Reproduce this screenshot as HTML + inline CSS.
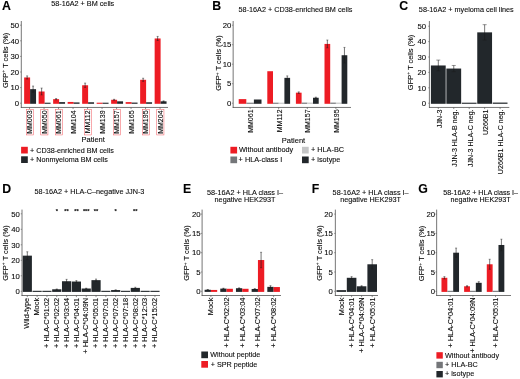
<!DOCTYPE html>
<html><head><meta charset="utf-8"><title>Figure</title>
<style>
html,body{margin:0;padding:0;background:#fff;}
svg{display:block;}
text{font-family:"Liberation Sans",Arial,sans-serif;stroke:#0a0a0a;stroke-width:0.1px;}
</style></head>
<body>
<svg width="520" height="379" viewBox="0 0 520 379">
<rect x="0" y="0" width="520" height="379" fill="#ffffff"/>
<rect x="24.15" y="77.46" width="5.95" height="26.34" fill="#ed1c24"/>
<line x1="27.13" y1="75.90" x2="27.13" y2="79.02" stroke="#1a1a1a" stroke-width="0.6"/>
<line x1="26.13" y1="75.90" x2="28.13" y2="75.90" stroke="#1a1a1a" stroke-width="0.45"/>
<line x1="26.13" y1="79.02" x2="28.13" y2="79.02" stroke="#1a1a1a" stroke-width="0.45"/>
<rect x="30.10" y="89.16" width="5.95" height="14.64" fill="#22272b"/>
<line x1="33.08" y1="86.04" x2="33.08" y2="92.28" stroke="#1a1a1a" stroke-width="0.6"/>
<line x1="32.08" y1="86.04" x2="34.08" y2="86.04" stroke="#1a1a1a" stroke-width="0.45"/>
<line x1="32.08" y1="92.28" x2="34.08" y2="92.28" stroke="#1a1a1a" stroke-width="0.45"/>
<rect x="38.65" y="91.50" width="5.95" height="12.30" fill="#ed1c24"/>
<line x1="41.62" y1="88.07" x2="41.62" y2="94.93" stroke="#1a1a1a" stroke-width="0.6"/>
<line x1="40.62" y1="88.07" x2="42.62" y2="88.07" stroke="#1a1a1a" stroke-width="0.45"/>
<line x1="40.62" y1="94.93" x2="42.62" y2="94.93" stroke="#1a1a1a" stroke-width="0.45"/>
<rect x="44.60" y="102.70" width="5.95" height="1.10" fill="#22272b"/>
<rect x="53.15" y="99.14" width="5.95" height="4.66" fill="#ed1c24"/>
<line x1="56.12" y1="98.52" x2="56.12" y2="99.77" stroke="#1a1a1a" stroke-width="0.6"/>
<line x1="55.12" y1="98.52" x2="57.12" y2="98.52" stroke="#1a1a1a" stroke-width="0.45"/>
<line x1="55.12" y1="99.77" x2="57.12" y2="99.77" stroke="#1a1a1a" stroke-width="0.45"/>
<rect x="59.10" y="102.11" width="5.95" height="1.69" fill="#22272b"/>
<rect x="67.65" y="101.95" width="5.95" height="1.85" fill="#ed1c24"/>
<rect x="73.60" y="102.42" width="5.95" height="1.38" fill="#22272b"/>
<rect x="82.15" y="85.26" width="5.95" height="18.54" fill="#ed1c24"/>
<line x1="85.12" y1="83.08" x2="85.12" y2="87.44" stroke="#1a1a1a" stroke-width="0.6"/>
<line x1="84.12" y1="83.08" x2="86.12" y2="83.08" stroke="#1a1a1a" stroke-width="0.45"/>
<line x1="84.12" y1="87.44" x2="86.12" y2="87.44" stroke="#1a1a1a" stroke-width="0.45"/>
<rect x="88.10" y="102.26" width="5.95" height="1.54" fill="#22272b"/>
<rect x="96.65" y="102.70" width="5.95" height="1.10" fill="#ed1c24"/>
<rect x="102.60" y="102.70" width="5.95" height="1.10" fill="#22272b"/>
<rect x="111.15" y="99.77" width="5.95" height="4.03" fill="#ed1c24"/>
<line x1="114.12" y1="99.30" x2="114.12" y2="100.24" stroke="#1a1a1a" stroke-width="0.6"/>
<line x1="113.12" y1="99.30" x2="115.12" y2="99.30" stroke="#1a1a1a" stroke-width="0.45"/>
<line x1="113.12" y1="100.24" x2="115.12" y2="100.24" stroke="#1a1a1a" stroke-width="0.45"/>
<rect x="117.10" y="101.33" width="5.95" height="2.47" fill="#22272b"/>
<rect x="125.65" y="102.11" width="5.95" height="1.69" fill="#ed1c24"/>
<rect x="131.60" y="102.58" width="5.95" height="1.22" fill="#22272b"/>
<rect x="140.15" y="79.80" width="5.95" height="24.00" fill="#ed1c24"/>
<line x1="143.13" y1="78.24" x2="143.13" y2="81.36" stroke="#1a1a1a" stroke-width="0.6"/>
<line x1="142.13" y1="78.24" x2="144.13" y2="78.24" stroke="#1a1a1a" stroke-width="0.45"/>
<line x1="142.13" y1="81.36" x2="144.13" y2="81.36" stroke="#1a1a1a" stroke-width="0.45"/>
<rect x="146.10" y="102.26" width="5.95" height="1.54" fill="#22272b"/>
<rect x="154.65" y="38.46" width="5.95" height="65.34" fill="#ed1c24"/>
<line x1="157.63" y1="36.43" x2="157.63" y2="40.49" stroke="#1a1a1a" stroke-width="0.6"/>
<line x1="156.63" y1="36.43" x2="158.63" y2="36.43" stroke="#1a1a1a" stroke-width="0.45"/>
<line x1="156.63" y1="40.49" x2="158.63" y2="40.49" stroke="#1a1a1a" stroke-width="0.45"/>
<rect x="160.60" y="101.33" width="5.95" height="2.47" fill="#22272b"/>
<line x1="163.58" y1="100.86" x2="163.58" y2="101.80" stroke="#1a1a1a" stroke-width="0.6"/>
<line x1="162.58" y1="100.86" x2="164.58" y2="100.86" stroke="#1a1a1a" stroke-width="0.45"/>
<line x1="162.58" y1="101.80" x2="164.58" y2="101.80" stroke="#1a1a1a" stroke-width="0.45"/>
<line x1="21.30" y1="21.00" x2="21.30" y2="107.85" stroke="#484848" stroke-width="0.75"/>
<line x1="20.90" y1="107.45" x2="168.00" y2="107.45" stroke="#484848" stroke-width="0.75"/>
<line x1="20.00" y1="103.20" x2="21.30" y2="103.20" stroke="#484848" stroke-width="0.5"/>
<text x="19.00" y="105.90" font-size="7.75" text-anchor="end" font-weight="normal" fill="#0a0a0a">0</text>
<line x1="20.00" y1="87.60" x2="21.30" y2="87.60" stroke="#484848" stroke-width="0.5"/>
<text x="19.00" y="90.30" font-size="7.75" text-anchor="end" font-weight="normal" fill="#0a0a0a">10</text>
<line x1="20.00" y1="72.00" x2="21.30" y2="72.00" stroke="#484848" stroke-width="0.5"/>
<text x="19.00" y="74.70" font-size="7.75" text-anchor="end" font-weight="normal" fill="#0a0a0a">20</text>
<line x1="20.00" y1="56.40" x2="21.30" y2="56.40" stroke="#484848" stroke-width="0.5"/>
<text x="19.00" y="59.10" font-size="7.75" text-anchor="end" font-weight="normal" fill="#0a0a0a">30</text>
<line x1="20.00" y1="40.80" x2="21.30" y2="40.80" stroke="#484848" stroke-width="0.5"/>
<text x="19.00" y="43.50" font-size="7.75" text-anchor="end" font-weight="normal" fill="#0a0a0a">40</text>
<line x1="20.00" y1="25.20" x2="21.30" y2="25.20" stroke="#484848" stroke-width="0.5"/>
<text x="19.00" y="27.90" font-size="7.75" text-anchor="end" font-weight="normal" fill="#0a0a0a">50</text>
<line x1="29.55" y1="107.45" x2="29.55" y2="109.05" stroke="#484848" stroke-width="0.6"/>
<text x="32.45" y="110.45" font-size="7.0" text-anchor="end" font-weight="normal" fill="#0a0a0a" transform="rotate(-90 32.45 110.45)">MM003</text>
<rect x="26.25" y="109.45" width="7.2" height="25.5" fill="none" stroke="#ed1c24" stroke-opacity="0.75" stroke-width="0.5"/>
<line x1="44.05" y1="107.45" x2="44.05" y2="109.05" stroke="#484848" stroke-width="0.6"/>
<text x="46.95" y="110.45" font-size="7.0" text-anchor="end" font-weight="normal" fill="#0a0a0a" transform="rotate(-90 46.95 110.45)">MM050</text>
<rect x="40.75" y="109.45" width="7.2" height="25.5" fill="none" stroke="#ed1c24" stroke-opacity="0.75" stroke-width="0.5"/>
<line x1="58.55" y1="107.45" x2="58.55" y2="109.05" stroke="#484848" stroke-width="0.6"/>
<text x="61.45" y="110.45" font-size="7.0" text-anchor="end" font-weight="normal" fill="#0a0a0a" transform="rotate(-90 61.45 110.45)">MM061</text>
<rect x="55.25" y="109.45" width="7.2" height="25.5" fill="none" stroke="#ed1c24" stroke-opacity="0.75" stroke-width="0.5"/>
<line x1="73.05" y1="107.45" x2="73.05" y2="109.05" stroke="#484848" stroke-width="0.6"/>
<text x="75.95" y="110.45" font-size="7.0" text-anchor="end" font-weight="normal" fill="#0a0a0a" transform="rotate(-90 75.95 110.45)">MM104</text>
<line x1="87.55" y1="107.45" x2="87.55" y2="109.05" stroke="#484848" stroke-width="0.6"/>
<text x="90.45" y="110.45" font-size="7.0" text-anchor="end" font-weight="normal" fill="#0a0a0a" transform="rotate(-90 90.45 110.45)">MM112</text>
<rect x="84.25" y="109.45" width="7.2" height="25.5" fill="none" stroke="#ed1c24" stroke-opacity="0.75" stroke-width="0.5"/>
<line x1="102.05" y1="107.45" x2="102.05" y2="109.05" stroke="#484848" stroke-width="0.6"/>
<text x="104.95" y="110.45" font-size="7.0" text-anchor="end" font-weight="normal" fill="#0a0a0a" transform="rotate(-90 104.95 110.45)">MM139</text>
<line x1="116.55" y1="107.45" x2="116.55" y2="109.05" stroke="#484848" stroke-width="0.6"/>
<text x="119.45" y="110.45" font-size="7.0" text-anchor="end" font-weight="normal" fill="#0a0a0a" transform="rotate(-90 119.45 110.45)">MM157</text>
<rect x="113.25" y="109.45" width="7.2" height="25.5" fill="none" stroke="#ed1c24" stroke-opacity="0.75" stroke-width="0.5"/>
<line x1="131.05" y1="107.45" x2="131.05" y2="109.05" stroke="#484848" stroke-width="0.6"/>
<text x="133.95" y="110.45" font-size="7.0" text-anchor="end" font-weight="normal" fill="#0a0a0a" transform="rotate(-90 133.95 110.45)">MM165</text>
<line x1="145.55" y1="107.45" x2="145.55" y2="109.05" stroke="#484848" stroke-width="0.6"/>
<text x="148.45" y="110.45" font-size="7.0" text-anchor="end" font-weight="normal" fill="#0a0a0a" transform="rotate(-90 148.45 110.45)">MM195</text>
<rect x="142.25" y="109.45" width="7.2" height="25.5" fill="none" stroke="#ed1c24" stroke-opacity="0.75" stroke-width="0.5"/>
<line x1="160.05" y1="107.45" x2="160.05" y2="109.05" stroke="#484848" stroke-width="0.6"/>
<text x="162.95" y="110.45" font-size="7.0" text-anchor="end" font-weight="normal" fill="#0a0a0a" transform="rotate(-90 162.95 110.45)">MM204</text>
<rect x="156.75" y="109.45" width="7.2" height="25.5" fill="none" stroke="#ed1c24" stroke-opacity="0.75" stroke-width="0.5"/>
<text x="8.00" y="60.40" font-size="7.5" text-anchor="middle" fill="#0a0a0a" transform="rotate(-90 8.00 60.40)">GFP<tspan dy="-2.6" font-size="4.65">+</tspan><tspan dy="2.6"> T cells (%)</tspan></text>
<text x="2.00" y="10.30" font-size="12.3" text-anchor="start" font-weight="bold" fill="#000">A</text>
<text x="82.70" y="6.30" font-size="7.25" text-anchor="middle" font-weight="normal" fill="#0a0a0a">58-16A2 + BM cells</text>
<text x="93.20" y="142.30" font-size="7.5" text-anchor="middle" font-weight="normal" fill="#0a0a0a">Patient</text>
<rect x="21.10" y="146.80" width="6.70" height="6.70" fill="#ed1c24"/>
<text x="30.10" y="152.70" font-size="7.2" text-anchor="start" font-weight="normal" fill="#0a0a0a">+ CD38-enriched BM cells</text>
<rect x="21.10" y="156.30" width="6.70" height="6.70" fill="#22272b"/>
<text x="30.10" y="162.40" font-size="7.2" text-anchor="start" font-weight="normal" fill="#0a0a0a">+ Nonmyeloma BM cells</text>
<rect x="238.70" y="99.11" width="7.60" height="4.69" fill="#ed1c24"/>
<rect x="246.30" y="102.70" width="7.60" height="1.10" fill="#747679"/>
<rect x="253.90" y="99.50" width="7.60" height="4.30" fill="#22272b"/>
<rect x="267.30" y="71.22" width="5.70" height="32.58" fill="#ed1c24"/>
<rect x="273.00" y="102.70" width="5.70" height="1.10" fill="#747679"/>
<rect x="278.70" y="102.70" width="5.70" height="1.10" fill="#c4c5c6"/>
<rect x="284.40" y="77.85" width="5.70" height="25.95" fill="#22272b"/>
<line x1="287.25" y1="75.90" x2="287.25" y2="79.80" stroke="#1a1a1a" stroke-width="0.6"/>
<line x1="286.25" y1="75.90" x2="288.25" y2="75.90" stroke="#1a1a1a" stroke-width="0.45"/>
<line x1="286.25" y1="79.80" x2="288.25" y2="79.80" stroke="#1a1a1a" stroke-width="0.45"/>
<rect x="295.90" y="92.67" width="5.70" height="11.13" fill="#ed1c24"/>
<line x1="298.75" y1="91.89" x2="298.75" y2="93.45" stroke="#1a1a1a" stroke-width="0.6"/>
<line x1="297.75" y1="91.89" x2="299.75" y2="91.89" stroke="#1a1a1a" stroke-width="0.45"/>
<line x1="297.75" y1="93.45" x2="299.75" y2="93.45" stroke="#1a1a1a" stroke-width="0.45"/>
<rect x="301.60" y="102.62" width="5.70" height="1.19" fill="#747679"/>
<rect x="307.30" y="102.62" width="5.70" height="1.19" fill="#c4c5c6"/>
<rect x="313.00" y="97.74" width="5.70" height="6.06" fill="#22272b"/>
<line x1="315.85" y1="97.16" x2="315.85" y2="98.33" stroke="#1a1a1a" stroke-width="0.6"/>
<line x1="314.85" y1="97.16" x2="316.85" y2="97.16" stroke="#1a1a1a" stroke-width="0.45"/>
<line x1="314.85" y1="98.33" x2="316.85" y2="98.33" stroke="#1a1a1a" stroke-width="0.45"/>
<rect x="324.50" y="43.92" width="5.70" height="59.88" fill="#ed1c24"/>
<line x1="327.35" y1="40.02" x2="327.35" y2="47.82" stroke="#1a1a1a" stroke-width="0.6"/>
<line x1="326.35" y1="40.02" x2="328.35" y2="40.02" stroke="#1a1a1a" stroke-width="0.45"/>
<line x1="326.35" y1="47.82" x2="328.35" y2="47.82" stroke="#1a1a1a" stroke-width="0.45"/>
<rect x="330.20" y="102.62" width="5.70" height="1.19" fill="#747679"/>
<rect x="335.90" y="102.62" width="5.70" height="1.19" fill="#c4c5c6"/>
<rect x="341.60" y="55.23" width="5.70" height="48.57" fill="#22272b"/>
<line x1="344.45" y1="47.43" x2="344.45" y2="63.03" stroke="#1a1a1a" stroke-width="0.6"/>
<line x1="343.45" y1="47.43" x2="345.45" y2="47.43" stroke="#1a1a1a" stroke-width="0.45"/>
<line x1="343.45" y1="63.03" x2="345.45" y2="63.03" stroke="#1a1a1a" stroke-width="0.45"/>
<line x1="233.15" y1="21.00" x2="233.15" y2="107.85" stroke="#484848" stroke-width="0.75"/>
<line x1="232.75" y1="107.45" x2="351.00" y2="107.45" stroke="#484848" stroke-width="0.75"/>
<line x1="231.85" y1="103.20" x2="233.15" y2="103.20" stroke="#484848" stroke-width="0.5"/>
<text x="231.25" y="105.90" font-size="7.75" text-anchor="end" font-weight="normal" fill="#0a0a0a">0</text>
<line x1="231.85" y1="83.70" x2="233.15" y2="83.70" stroke="#484848" stroke-width="0.5"/>
<text x="231.25" y="86.40" font-size="7.75" text-anchor="end" font-weight="normal" fill="#0a0a0a">5</text>
<line x1="231.85" y1="64.20" x2="233.15" y2="64.20" stroke="#484848" stroke-width="0.5"/>
<text x="231.25" y="66.90" font-size="7.75" text-anchor="end" font-weight="normal" fill="#0a0a0a">10</text>
<line x1="231.85" y1="44.70" x2="233.15" y2="44.70" stroke="#484848" stroke-width="0.5"/>
<text x="231.25" y="47.40" font-size="7.75" text-anchor="end" font-weight="normal" fill="#0a0a0a">15</text>
<line x1="231.85" y1="25.20" x2="233.15" y2="25.20" stroke="#484848" stroke-width="0.5"/>
<text x="231.25" y="27.90" font-size="7.75" text-anchor="end" font-weight="normal" fill="#0a0a0a">20</text>
<line x1="250.10" y1="107.45" x2="250.10" y2="109.05" stroke="#484848" stroke-width="0.6"/>
<text x="253.00" y="109.45" font-size="7.0" text-anchor="end" font-weight="normal" fill="#0a0a0a" transform="rotate(-90 253.00 109.45)">MM061</text>
<line x1="278.70" y1="107.45" x2="278.70" y2="109.05" stroke="#484848" stroke-width="0.6"/>
<text x="281.60" y="109.45" font-size="7.0" text-anchor="end" font-weight="normal" fill="#0a0a0a" transform="rotate(-90 281.60 109.45)">MM112</text>
<line x1="307.30" y1="107.45" x2="307.30" y2="109.05" stroke="#484848" stroke-width="0.6"/>
<text x="310.20" y="109.45" font-size="7.0" text-anchor="end" font-weight="normal" fill="#0a0a0a" transform="rotate(-90 310.20 109.45)">MM157</text>
<line x1="335.90" y1="107.45" x2="335.90" y2="109.05" stroke="#484848" stroke-width="0.6"/>
<text x="338.80" y="109.45" font-size="7.0" text-anchor="end" font-weight="normal" fill="#0a0a0a" transform="rotate(-90 338.80 109.45)">MM195</text>
<text x="221.20" y="63.00" font-size="7.5" text-anchor="middle" fill="#0a0a0a" transform="rotate(-90 221.20 63.00)">GFP<tspan dy="-2.6" font-size="4.65">+</tspan><tspan dy="2.6"> T cells (%)</tspan></text>
<text x="212.30" y="10.30" font-size="12.3" text-anchor="start" font-weight="bold" fill="#000">B</text>
<text x="295.50" y="12.00" font-size="7.25" text-anchor="middle" font-weight="normal" fill="#0a0a0a">58-16A2 + CD38-enriched BM cells</text>
<text x="293.50" y="142.70" font-size="7.5" text-anchor="middle" font-weight="normal" fill="#0a0a0a">Patient</text>
<rect x="230.40" y="146.80" width="6.70" height="6.70" fill="#ed1c24"/>
<text x="238.90" y="152.40" font-size="7.3" text-anchor="start" font-weight="normal" fill="#0a0a0a">Without antibody</text>
<rect x="230.40" y="156.50" width="6.70" height="6.70" fill="#747679"/>
<text x="238.60" y="162.40" font-size="7.3" text-anchor="start" font-weight="normal" fill="#0a0a0a">+ HLA-class I</text>
<rect x="302.00" y="146.80" width="6.70" height="6.70" fill="#c4c5c6"/>
<text x="311.00" y="152.40" font-size="7.3" text-anchor="start" font-weight="normal" fill="#0a0a0a">+ HLA-BC</text>
<rect x="302.00" y="156.50" width="6.70" height="6.70" fill="#22272b"/>
<text x="311.00" y="162.40" font-size="7.3" text-anchor="start" font-weight="normal" fill="#0a0a0a">+ isotype</text>
<rect x="430.90" y="65.47" width="14.80" height="38.33" fill="#22272b"/>
<line x1="438.30" y1="60.08" x2="438.30" y2="70.86" stroke="#1a1a1a" stroke-width="0.6"/>
<line x1="436.30" y1="60.08" x2="440.30" y2="60.08" stroke="#1a1a1a" stroke-width="0.45"/>
<line x1="436.30" y1="70.86" x2="440.30" y2="70.86" stroke="#1a1a1a" stroke-width="0.45"/>
<rect x="446.35" y="68.55" width="14.80" height="35.25" fill="#22272b"/>
<line x1="453.75" y1="65.47" x2="453.75" y2="71.63" stroke="#1a1a1a" stroke-width="0.6"/>
<line x1="451.75" y1="65.47" x2="455.75" y2="65.47" stroke="#1a1a1a" stroke-width="0.45"/>
<line x1="451.75" y1="71.63" x2="455.75" y2="71.63" stroke="#1a1a1a" stroke-width="0.45"/>
<rect x="461.80" y="102.70" width="14.80" height="1.10" fill="#22272b"/>
<rect x="477.25" y="32.36" width="14.80" height="71.44" fill="#22272b"/>
<line x1="484.65" y1="24.66" x2="484.65" y2="40.06" stroke="#1a1a1a" stroke-width="0.6"/>
<line x1="482.65" y1="24.66" x2="486.65" y2="24.66" stroke="#1a1a1a" stroke-width="0.45"/>
<line x1="482.65" y1="40.06" x2="486.65" y2="40.06" stroke="#1a1a1a" stroke-width="0.45"/>
<rect x="492.70" y="102.58" width="14.80" height="1.22" fill="#22272b"/>
<line x1="429.40" y1="21.00" x2="429.40" y2="107.85" stroke="#484848" stroke-width="0.75"/>
<line x1="429.00" y1="107.45" x2="509.30" y2="107.45" stroke="#484848" stroke-width="0.75"/>
<line x1="428.10" y1="103.20" x2="429.40" y2="103.20" stroke="#484848" stroke-width="0.5"/>
<text x="426.00" y="105.90" font-size="7.75" text-anchor="end" font-weight="normal" fill="#0a0a0a">0</text>
<line x1="428.10" y1="87.80" x2="429.40" y2="87.80" stroke="#484848" stroke-width="0.5"/>
<text x="426.00" y="90.50" font-size="7.75" text-anchor="end" font-weight="normal" fill="#0a0a0a">10</text>
<line x1="428.10" y1="72.40" x2="429.40" y2="72.40" stroke="#484848" stroke-width="0.5"/>
<text x="426.00" y="75.10" font-size="7.75" text-anchor="end" font-weight="normal" fill="#0a0a0a">20</text>
<line x1="428.10" y1="57.00" x2="429.40" y2="57.00" stroke="#484848" stroke-width="0.5"/>
<text x="426.00" y="59.70" font-size="7.75" text-anchor="end" font-weight="normal" fill="#0a0a0a">30</text>
<line x1="428.10" y1="41.60" x2="429.40" y2="41.60" stroke="#484848" stroke-width="0.5"/>
<text x="426.00" y="44.30" font-size="7.75" text-anchor="end" font-weight="normal" fill="#0a0a0a">40</text>
<line x1="428.10" y1="26.20" x2="429.40" y2="26.20" stroke="#484848" stroke-width="0.5"/>
<text x="426.00" y="28.90" font-size="7.75" text-anchor="end" font-weight="normal" fill="#0a0a0a">50</text>
<line x1="438.30" y1="107.45" x2="438.30" y2="109.05" stroke="#484848" stroke-width="0.6"/>
<text x="441.65" y="109.45" font-size="7.1" text-anchor="end" font-weight="normal" fill="#0a0a0a" transform="rotate(-90 441.65 109.45)">JJN-3</text>
<line x1="453.75" y1="107.45" x2="453.75" y2="109.05" stroke="#484848" stroke-width="0.6"/>
<text x="457.10" y="109.45" font-size="7.1" text-anchor="end" font-weight="normal" fill="#0a0a0a" transform="rotate(-90 457.10 109.45)">JJN-3 HLA-B neg.</text>
<line x1="469.20" y1="107.45" x2="469.20" y2="109.05" stroke="#484848" stroke-width="0.6"/>
<text x="472.55" y="109.45" font-size="7.1" text-anchor="end" font-weight="normal" fill="#0a0a0a" transform="rotate(-90 472.55 109.45)">JJN-3 HLA-C neg.</text>
<line x1="484.65" y1="107.45" x2="484.65" y2="109.05" stroke="#484848" stroke-width="0.6"/>
<text x="488.00" y="109.45" font-size="7.1" text-anchor="end" font-weight="normal" fill="#0a0a0a" transform="rotate(-90 488.00 109.45)">U266B1</text>
<line x1="500.10" y1="107.45" x2="500.10" y2="109.05" stroke="#484848" stroke-width="0.6"/>
<text x="503.45" y="109.45" font-size="7.1" text-anchor="end" font-weight="normal" fill="#0a0a0a" transform="rotate(-90 503.45 109.45)">U266B1 HLA-C neg.</text>
<text x="412.70" y="62.50" font-size="7.5" text-anchor="middle" fill="#0a0a0a" transform="rotate(-90 412.70 62.50)">GFP<tspan dy="-2.6" font-size="4.65">+</tspan><tspan dy="2.6"> T cells (%)</tspan></text>
<text x="399.30" y="10.30" font-size="12.3" text-anchor="start" font-weight="bold" fill="#000">C</text>
<text x="466.30" y="11.80" font-size="7.25" text-anchor="middle" font-weight="normal" fill="#0a0a0a">58-16A2 + myeloma cell lines</text>
<rect x="22.70" y="255.65" width="9.20" height="36.25" fill="#22272b"/>
<line x1="27.30" y1="251.78" x2="27.30" y2="259.52" stroke="#1a1a1a" stroke-width="0.6"/>
<line x1="26.30" y1="251.78" x2="28.30" y2="251.78" stroke="#1a1a1a" stroke-width="0.45"/>
<line x1="26.30" y1="259.52" x2="28.30" y2="259.52" stroke="#1a1a1a" stroke-width="0.45"/>
<rect x="32.52" y="290.80" width="9.20" height="1.10" fill="#22272b"/>
<rect x="42.34" y="290.80" width="9.20" height="1.10" fill="#22272b"/>
<rect x="52.16" y="289.29" width="9.20" height="2.62" fill="#22272b"/>
<line x1="56.76" y1="288.98" x2="56.76" y2="289.60" stroke="#1a1a1a" stroke-width="0.6"/>
<line x1="55.76" y1="288.98" x2="57.76" y2="288.98" stroke="#1a1a1a" stroke-width="0.45"/>
<line x1="55.76" y1="289.60" x2="57.76" y2="289.60" stroke="#1a1a1a" stroke-width="0.45"/>
<rect x="61.98" y="281.23" width="9.20" height="10.68" fill="#22272b"/>
<line x1="66.58" y1="279.37" x2="66.58" y2="283.09" stroke="#1a1a1a" stroke-width="0.6"/>
<line x1="65.58" y1="279.37" x2="67.58" y2="279.37" stroke="#1a1a1a" stroke-width="0.45"/>
<line x1="65.58" y1="283.09" x2="67.58" y2="283.09" stroke="#1a1a1a" stroke-width="0.45"/>
<rect x="71.80" y="281.54" width="9.20" height="10.37" fill="#22272b"/>
<line x1="76.40" y1="280.61" x2="76.40" y2="282.47" stroke="#1a1a1a" stroke-width="0.6"/>
<line x1="75.40" y1="280.61" x2="77.40" y2="280.61" stroke="#1a1a1a" stroke-width="0.45"/>
<line x1="75.40" y1="282.47" x2="77.40" y2="282.47" stroke="#1a1a1a" stroke-width="0.45"/>
<rect x="81.62" y="288.51" width="9.20" height="3.39" fill="#22272b"/>
<line x1="86.22" y1="288.20" x2="86.22" y2="288.82" stroke="#1a1a1a" stroke-width="0.6"/>
<line x1="85.22" y1="288.20" x2="87.22" y2="288.20" stroke="#1a1a1a" stroke-width="0.45"/>
<line x1="85.22" y1="288.82" x2="87.22" y2="288.82" stroke="#1a1a1a" stroke-width="0.45"/>
<rect x="91.44" y="280.14" width="9.20" height="11.76" fill="#22272b"/>
<line x1="96.04" y1="279.06" x2="96.04" y2="281.22" stroke="#1a1a1a" stroke-width="0.6"/>
<line x1="95.04" y1="279.06" x2="97.04" y2="279.06" stroke="#1a1a1a" stroke-width="0.45"/>
<line x1="95.04" y1="281.22" x2="97.04" y2="281.22" stroke="#1a1a1a" stroke-width="0.45"/>
<rect x="101.26" y="290.80" width="9.20" height="1.10" fill="#22272b"/>
<rect x="111.08" y="290.06" width="9.20" height="1.84" fill="#22272b"/>
<line x1="115.68" y1="289.91" x2="115.68" y2="290.21" stroke="#1a1a1a" stroke-width="0.6"/>
<line x1="114.68" y1="289.91" x2="116.68" y2="289.91" stroke="#1a1a1a" stroke-width="0.45"/>
<line x1="114.68" y1="290.21" x2="116.68" y2="290.21" stroke="#1a1a1a" stroke-width="0.45"/>
<rect x="120.90" y="290.80" width="9.20" height="1.10" fill="#22272b"/>
<rect x="130.72" y="287.89" width="9.20" height="4.01" fill="#22272b"/>
<line x1="135.32" y1="287.27" x2="135.32" y2="288.51" stroke="#1a1a1a" stroke-width="0.6"/>
<line x1="134.32" y1="287.27" x2="136.32" y2="287.27" stroke="#1a1a1a" stroke-width="0.45"/>
<line x1="134.32" y1="288.51" x2="136.32" y2="288.51" stroke="#1a1a1a" stroke-width="0.45"/>
<rect x="140.54" y="290.80" width="9.20" height="1.10" fill="#22272b"/>
<rect x="150.36" y="290.80" width="9.20" height="1.10" fill="#22272b"/>
<line x1="22.00" y1="209.60" x2="22.00" y2="295.90" stroke="#484848" stroke-width="0.75"/>
<line x1="21.60" y1="295.50" x2="160.00" y2="295.50" stroke="#484848" stroke-width="0.75"/>
<line x1="20.70" y1="291.30" x2="22.00" y2="291.30" stroke="#484848" stroke-width="0.5"/>
<text x="19.80" y="294.00" font-size="7.75" text-anchor="end" font-weight="normal" fill="#0a0a0a">0</text>
<line x1="20.70" y1="275.80" x2="22.00" y2="275.80" stroke="#484848" stroke-width="0.5"/>
<text x="19.80" y="278.50" font-size="7.75" text-anchor="end" font-weight="normal" fill="#0a0a0a">10</text>
<line x1="20.70" y1="260.30" x2="22.00" y2="260.30" stroke="#484848" stroke-width="0.5"/>
<text x="19.80" y="263.00" font-size="7.75" text-anchor="end" font-weight="normal" fill="#0a0a0a">20</text>
<line x1="20.70" y1="244.80" x2="22.00" y2="244.80" stroke="#484848" stroke-width="0.5"/>
<text x="19.80" y="247.50" font-size="7.75" text-anchor="end" font-weight="normal" fill="#0a0a0a">30</text>
<line x1="20.70" y1="229.30" x2="22.00" y2="229.30" stroke="#484848" stroke-width="0.5"/>
<text x="19.80" y="232.00" font-size="7.75" text-anchor="end" font-weight="normal" fill="#0a0a0a">40</text>
<line x1="20.70" y1="213.80" x2="22.00" y2="213.80" stroke="#484848" stroke-width="0.5"/>
<text x="19.80" y="216.50" font-size="7.75" text-anchor="end" font-weight="normal" fill="#0a0a0a">50</text>
<line x1="27.30" y1="295.50" x2="27.30" y2="297.10" stroke="#484848" stroke-width="0.6"/>
<text x="29.50" y="297.80" font-size="7.45" text-anchor="end" font-weight="normal" fill="#0a0a0a" transform="rotate(-90 29.50 297.80)">Wild-type</text>
<line x1="37.12" y1="295.50" x2="37.12" y2="297.10" stroke="#484848" stroke-width="0.6"/>
<text x="39.32" y="297.80" font-size="7.45" text-anchor="end" font-weight="normal" fill="#0a0a0a" transform="rotate(-90 39.32 297.80)">Mock</text>
<line x1="46.94" y1="295.50" x2="46.94" y2="297.10" stroke="#484848" stroke-width="0.6"/>
<text x="49.14" y="297.80" font-size="7.45" text-anchor="end" font-weight="normal" fill="#0a0a0a" transform="rotate(-90 49.14 297.80)">+ HLA-C*01:02</text>
<line x1="56.76" y1="295.50" x2="56.76" y2="297.10" stroke="#484848" stroke-width="0.6"/>
<text x="58.96" y="297.80" font-size="7.45" text-anchor="end" font-weight="normal" fill="#0a0a0a" transform="rotate(-90 58.96 297.80)">+ HLA-C*02:02</text>
<line x1="66.58" y1="295.50" x2="66.58" y2="297.10" stroke="#484848" stroke-width="0.6"/>
<text x="68.78" y="297.80" font-size="7.45" text-anchor="end" font-weight="normal" fill="#0a0a0a" transform="rotate(-90 68.78 297.80)">+ HLA-C*03:04</text>
<line x1="76.40" y1="295.50" x2="76.40" y2="297.10" stroke="#484848" stroke-width="0.6"/>
<text x="78.60" y="297.80" font-size="7.45" text-anchor="end" font-weight="normal" fill="#0a0a0a" transform="rotate(-90 78.60 297.80)">+ HLA-C*04:01</text>
<line x1="86.22" y1="295.50" x2="86.22" y2="297.10" stroke="#484848" stroke-width="0.6"/>
<text x="88.42" y="297.80" font-size="7.45" text-anchor="end" font-weight="normal" fill="#0a0a0a" transform="rotate(-90 88.42 297.80)">+ HLA-C*04:09N</text>
<line x1="96.04" y1="295.50" x2="96.04" y2="297.10" stroke="#484848" stroke-width="0.6"/>
<text x="98.24" y="297.80" font-size="7.45" text-anchor="end" font-weight="normal" fill="#0a0a0a" transform="rotate(-90 98.24 297.80)">+ HLA-C*05:01</text>
<line x1="105.86" y1="295.50" x2="105.86" y2="297.10" stroke="#484848" stroke-width="0.6"/>
<text x="108.06" y="297.80" font-size="7.45" text-anchor="end" font-weight="normal" fill="#0a0a0a" transform="rotate(-90 108.06 297.80)">+ HLA-C*07:01</text>
<line x1="115.68" y1="295.50" x2="115.68" y2="297.10" stroke="#484848" stroke-width="0.6"/>
<text x="117.88" y="297.80" font-size="7.45" text-anchor="end" font-weight="normal" fill="#0a0a0a" transform="rotate(-90 117.88 297.80)">+ HLA-C*07:02</text>
<line x1="125.50" y1="295.50" x2="125.50" y2="297.10" stroke="#484848" stroke-width="0.6"/>
<text x="127.70" y="297.80" font-size="7.45" text-anchor="end" font-weight="normal" fill="#0a0a0a" transform="rotate(-90 127.70 297.80)">+ HLA-C*07:18</text>
<line x1="135.32" y1="295.50" x2="135.32" y2="297.10" stroke="#484848" stroke-width="0.6"/>
<text x="137.52" y="297.80" font-size="7.45" text-anchor="end" font-weight="normal" fill="#0a0a0a" transform="rotate(-90 137.52 297.80)">+ HLA-C*08:02</text>
<line x1="145.14" y1="295.50" x2="145.14" y2="297.10" stroke="#484848" stroke-width="0.6"/>
<text x="147.34" y="297.80" font-size="7.45" text-anchor="end" font-weight="normal" fill="#0a0a0a" transform="rotate(-90 147.34 297.80)">+ HLA-C*12:03</text>
<line x1="154.96" y1="295.50" x2="154.96" y2="297.10" stroke="#484848" stroke-width="0.6"/>
<text x="157.16" y="297.80" font-size="7.45" text-anchor="end" font-weight="normal" fill="#0a0a0a" transform="rotate(-90 157.16 297.80)">+ HLA-C*15:02</text>
<text x="7.60" y="253.00" font-size="7.5" text-anchor="middle" fill="#0a0a0a" transform="rotate(-90 7.60 253.00)">GFP<tspan dy="-2.6" font-size="4.65">+</tspan><tspan dy="2.6"> T cells (%)</tspan></text>
<text x="56.76" y="213.10" font-size="5.7" text-anchor="middle" font-weight="bold" fill="#0a0a0a">*</text>
<text x="66.58" y="213.10" font-size="5.7" text-anchor="middle" font-weight="bold" fill="#0a0a0a">**</text>
<text x="76.40" y="213.10" font-size="5.7" text-anchor="middle" font-weight="bold" fill="#0a0a0a">**</text>
<text x="86.22" y="213.10" font-size="5.7" text-anchor="middle" font-weight="bold" fill="#0a0a0a">***</text>
<text x="96.04" y="213.10" font-size="5.7" text-anchor="middle" font-weight="bold" fill="#0a0a0a">**</text>
<text x="115.68" y="213.10" font-size="5.7" text-anchor="middle" font-weight="bold" fill="#0a0a0a">*</text>
<text x="135.32" y="213.10" font-size="5.7" text-anchor="middle" font-weight="bold" fill="#0a0a0a">**</text>
<text x="2.30" y="192.60" font-size="12.3" text-anchor="start" font-weight="bold" fill="#000">D</text>
<text x="89.50" y="194.00" font-size="7.25" text-anchor="middle" font-weight="normal" fill="#0a0a0a">58-16A2 + HLA-C–negative JJN-3</text>
<rect x="204.60" y="289.76" width="6.30" height="2.14" fill="#22272b"/>
<line x1="207.75" y1="289.56" x2="207.75" y2="289.95" stroke="#1a1a1a" stroke-width="0.6"/>
<line x1="206.75" y1="289.56" x2="208.75" y2="289.56" stroke="#1a1a1a" stroke-width="0.45"/>
<line x1="206.75" y1="289.95" x2="208.75" y2="289.95" stroke="#1a1a1a" stroke-width="0.45"/>
<rect x="210.90" y="289.95" width="6.30" height="1.95" fill="#ed1c24"/>
<rect x="220.28" y="288.60" width="6.30" height="3.30" fill="#22272b"/>
<line x1="223.43" y1="288.21" x2="223.43" y2="288.98" stroke="#1a1a1a" stroke-width="0.6"/>
<line x1="222.43" y1="288.21" x2="224.43" y2="288.21" stroke="#1a1a1a" stroke-width="0.45"/>
<line x1="222.43" y1="288.98" x2="224.43" y2="288.98" stroke="#1a1a1a" stroke-width="0.45"/>
<rect x="226.58" y="288.79" width="6.30" height="3.11" fill="#ed1c24"/>
<rect x="235.96" y="288.21" width="6.30" height="3.69" fill="#22272b"/>
<line x1="239.11" y1="287.83" x2="239.11" y2="288.60" stroke="#1a1a1a" stroke-width="0.6"/>
<line x1="238.11" y1="287.83" x2="240.11" y2="287.83" stroke="#1a1a1a" stroke-width="0.45"/>
<line x1="238.11" y1="288.60" x2="240.11" y2="288.60" stroke="#1a1a1a" stroke-width="0.45"/>
<rect x="242.26" y="288.79" width="6.30" height="3.11" fill="#ed1c24"/>
<rect x="251.64" y="288.98" width="6.30" height="2.92" fill="#22272b"/>
<line x1="254.79" y1="288.60" x2="254.79" y2="289.37" stroke="#1a1a1a" stroke-width="0.6"/>
<line x1="253.79" y1="288.60" x2="255.79" y2="288.60" stroke="#1a1a1a" stroke-width="0.45"/>
<line x1="253.79" y1="289.37" x2="255.79" y2="289.37" stroke="#1a1a1a" stroke-width="0.45"/>
<rect x="257.94" y="260.03" width="6.30" height="31.87" fill="#ed1c24"/>
<line x1="261.09" y1="252.31" x2="261.09" y2="267.75" stroke="#1a1a1a" stroke-width="0.6"/>
<line x1="260.09" y1="252.31" x2="262.09" y2="252.31" stroke="#1a1a1a" stroke-width="0.45"/>
<line x1="260.09" y1="267.75" x2="262.09" y2="267.75" stroke="#1a1a1a" stroke-width="0.45"/>
<rect x="267.32" y="286.86" width="6.30" height="5.04" fill="#22272b"/>
<line x1="270.47" y1="285.70" x2="270.47" y2="288.02" stroke="#1a1a1a" stroke-width="0.6"/>
<line x1="269.47" y1="285.70" x2="271.47" y2="285.70" stroke="#1a1a1a" stroke-width="0.45"/>
<line x1="269.47" y1="288.02" x2="271.47" y2="288.02" stroke="#1a1a1a" stroke-width="0.45"/>
<rect x="273.62" y="287.05" width="6.30" height="4.85" fill="#ed1c24"/>
<line x1="202.10" y1="209.60" x2="202.10" y2="295.90" stroke="#484848" stroke-width="0.75"/>
<line x1="201.70" y1="295.50" x2="281.00" y2="295.50" stroke="#484848" stroke-width="0.75"/>
<line x1="200.80" y1="291.30" x2="202.10" y2="291.30" stroke="#484848" stroke-width="0.5"/>
<text x="200.60" y="294.00" font-size="7.75" text-anchor="end" font-weight="normal" fill="#0a0a0a">0</text>
<line x1="200.80" y1="272.00" x2="202.10" y2="272.00" stroke="#484848" stroke-width="0.5"/>
<text x="200.60" y="274.70" font-size="7.75" text-anchor="end" font-weight="normal" fill="#0a0a0a">5</text>
<line x1="200.80" y1="252.70" x2="202.10" y2="252.70" stroke="#484848" stroke-width="0.5"/>
<text x="200.60" y="255.40" font-size="7.75" text-anchor="end" font-weight="normal" fill="#0a0a0a">10</text>
<line x1="200.80" y1="233.40" x2="202.10" y2="233.40" stroke="#484848" stroke-width="0.5"/>
<text x="200.60" y="236.10" font-size="7.75" text-anchor="end" font-weight="normal" fill="#0a0a0a">15</text>
<line x1="200.80" y1="214.10" x2="202.10" y2="214.10" stroke="#484848" stroke-width="0.5"/>
<text x="200.60" y="216.80" font-size="7.75" text-anchor="end" font-weight="normal" fill="#0a0a0a">20</text>
<line x1="210.90" y1="295.50" x2="210.90" y2="297.10" stroke="#484848" stroke-width="0.6"/>
<text x="213.40" y="297.50" font-size="7.4" text-anchor="end" font-weight="normal" fill="#0a0a0a" transform="rotate(-90 213.40 297.50)">Mock</text>
<line x1="226.58" y1="295.50" x2="226.58" y2="297.10" stroke="#484848" stroke-width="0.6"/>
<text x="229.08" y="297.50" font-size="7.4" text-anchor="end" font-weight="normal" fill="#0a0a0a" transform="rotate(-90 229.08 297.50)">+ HLA-C*02:02</text>
<line x1="242.26" y1="295.50" x2="242.26" y2="297.10" stroke="#484848" stroke-width="0.6"/>
<text x="244.76" y="297.50" font-size="7.4" text-anchor="end" font-weight="normal" fill="#0a0a0a" transform="rotate(-90 244.76 297.50)">+ HLA-C*03:04</text>
<line x1="257.94" y1="295.50" x2="257.94" y2="297.10" stroke="#484848" stroke-width="0.6"/>
<text x="260.44" y="297.50" font-size="7.4" text-anchor="end" font-weight="normal" fill="#0a0a0a" transform="rotate(-90 260.44 297.50)">+ HLA-C*07:02</text>
<line x1="273.62" y1="295.50" x2="273.62" y2="297.10" stroke="#484848" stroke-width="0.6"/>
<text x="276.12" y="297.50" font-size="7.4" text-anchor="end" font-weight="normal" fill="#0a0a0a" transform="rotate(-90 276.12 297.50)">+ HLA-C*08:02</text>
<text x="189.30" y="253.00" font-size="7.5" text-anchor="middle" fill="#0a0a0a" transform="rotate(-90 189.30 253.00)">GFP<tspan dy="-2.6" font-size="4.65">+</tspan><tspan dy="2.6"> T cells (%)</tspan></text>
<text x="183.00" y="192.60" font-size="12.3" text-anchor="start" font-weight="bold" fill="#000">E</text>
<text x="245.00" y="194.50" font-size="7.25" text-anchor="middle" font-weight="normal" fill="#0a0a0a">58-16A2 + HLA class I–</text>
<text x="245.00" y="202.00" font-size="7.25" text-anchor="middle" font-weight="normal" fill="#0a0a0a">negative HEK293T</text>
<rect x="201.30" y="351.50" width="6.70" height="6.70" fill="#22272b"/>
<text x="210.30" y="357.30" font-size="7.2" text-anchor="start" font-weight="normal" fill="#0a0a0a">Without peptide</text>
<rect x="201.30" y="361.00" width="6.70" height="6.70" fill="#ed1c24"/>
<text x="210.80" y="366.50" font-size="7.2" text-anchor="start" font-weight="normal" fill="#0a0a0a">+ SPR peptide</text>
<rect x="336.50" y="290.14" width="9.60" height="1.76" fill="#22272b"/>
<rect x="346.80" y="277.79" width="9.60" height="14.11" fill="#22272b"/>
<line x1="351.60" y1="276.63" x2="351.60" y2="278.95" stroke="#1a1a1a" stroke-width="0.6"/>
<line x1="350.60" y1="276.63" x2="352.60" y2="276.63" stroke="#1a1a1a" stroke-width="0.45"/>
<line x1="350.60" y1="278.95" x2="352.60" y2="278.95" stroke="#1a1a1a" stroke-width="0.45"/>
<rect x="356.80" y="286.28" width="9.60" height="5.62" fill="#22272b"/>
<line x1="361.60" y1="285.70" x2="361.60" y2="286.86" stroke="#1a1a1a" stroke-width="0.6"/>
<line x1="360.60" y1="285.70" x2="362.60" y2="285.70" stroke="#1a1a1a" stroke-width="0.45"/>
<line x1="360.60" y1="286.86" x2="362.60" y2="286.86" stroke="#1a1a1a" stroke-width="0.45"/>
<rect x="367.40" y="264.28" width="9.60" height="27.62" fill="#22272b"/>
<line x1="372.20" y1="259.65" x2="372.20" y2="268.91" stroke="#1a1a1a" stroke-width="0.6"/>
<line x1="371.20" y1="259.65" x2="373.20" y2="259.65" stroke="#1a1a1a" stroke-width="0.45"/>
<line x1="371.20" y1="268.91" x2="373.20" y2="268.91" stroke="#1a1a1a" stroke-width="0.45"/>
<line x1="335.35" y1="209.60" x2="335.35" y2="295.90" stroke="#484848" stroke-width="0.75"/>
<line x1="334.95" y1="295.50" x2="378.00" y2="295.50" stroke="#484848" stroke-width="0.75"/>
<line x1="334.05" y1="291.30" x2="335.35" y2="291.30" stroke="#484848" stroke-width="0.5"/>
<text x="332.75" y="294.00" font-size="7.75" text-anchor="end" font-weight="normal" fill="#0a0a0a">0</text>
<line x1="334.05" y1="272.00" x2="335.35" y2="272.00" stroke="#484848" stroke-width="0.5"/>
<text x="332.75" y="274.70" font-size="7.75" text-anchor="end" font-weight="normal" fill="#0a0a0a">5</text>
<line x1="334.05" y1="252.70" x2="335.35" y2="252.70" stroke="#484848" stroke-width="0.5"/>
<text x="332.75" y="255.40" font-size="7.75" text-anchor="end" font-weight="normal" fill="#0a0a0a">10</text>
<line x1="334.05" y1="233.40" x2="335.35" y2="233.40" stroke="#484848" stroke-width="0.5"/>
<text x="332.75" y="236.10" font-size="7.75" text-anchor="end" font-weight="normal" fill="#0a0a0a">15</text>
<line x1="334.05" y1="214.10" x2="335.35" y2="214.10" stroke="#484848" stroke-width="0.5"/>
<text x="332.75" y="216.80" font-size="7.75" text-anchor="end" font-weight="normal" fill="#0a0a0a">20</text>
<line x1="341.30" y1="295.50" x2="341.30" y2="297.10" stroke="#484848" stroke-width="0.6"/>
<text x="343.90" y="297.50" font-size="7.4" text-anchor="end" font-weight="normal" fill="#0a0a0a" transform="rotate(-90 343.90 297.50)">Mock</text>
<line x1="351.60" y1="295.50" x2="351.60" y2="297.10" stroke="#484848" stroke-width="0.6"/>
<text x="354.20" y="297.50" font-size="7.4" text-anchor="end" font-weight="normal" fill="#0a0a0a" transform="rotate(-90 354.20 297.50)">+ HLA-C*04:01</text>
<line x1="361.60" y1="295.50" x2="361.60" y2="297.10" stroke="#484848" stroke-width="0.6"/>
<text x="364.20" y="297.50" font-size="7.4" text-anchor="end" font-weight="normal" fill="#0a0a0a" transform="rotate(-90 364.20 297.50)">+ HLA-C*04:09N</text>
<line x1="372.20" y1="295.50" x2="372.20" y2="297.10" stroke="#484848" stroke-width="0.6"/>
<text x="374.80" y="297.50" font-size="7.4" text-anchor="end" font-weight="normal" fill="#0a0a0a" transform="rotate(-90 374.80 297.50)">+ HLA-C*05:01</text>
<text x="321.50" y="253.00" font-size="7.5" text-anchor="middle" fill="#0a0a0a" transform="rotate(-90 321.50 253.00)">GFP<tspan dy="-2.6" font-size="4.65">+</tspan><tspan dy="2.6"> T cells (%)</tspan></text>
<text x="311.70" y="192.60" font-size="12.3" text-anchor="start" font-weight="bold" fill="#000">F</text>
<text x="370.60" y="194.50" font-size="7.25" text-anchor="middle" font-weight="normal" fill="#0a0a0a">58-16A2 + HLA class I–</text>
<text x="370.60" y="202.00" font-size="7.25" text-anchor="middle" font-weight="normal" fill="#0a0a0a">negative HEK293T</text>
<rect x="441.48" y="277.79" width="5.85" height="14.11" fill="#ed1c24"/>
<line x1="444.40" y1="276.63" x2="444.40" y2="278.95" stroke="#1a1a1a" stroke-width="0.6"/>
<line x1="443.40" y1="276.63" x2="445.40" y2="276.63" stroke="#1a1a1a" stroke-width="0.45"/>
<line x1="443.40" y1="278.95" x2="445.40" y2="278.95" stroke="#1a1a1a" stroke-width="0.45"/>
<rect x="447.33" y="290.80" width="5.85" height="1.10" fill="#747679"/>
<rect x="453.18" y="252.70" width="5.85" height="39.20" fill="#22272b"/>
<line x1="456.10" y1="248.07" x2="456.10" y2="257.33" stroke="#1a1a1a" stroke-width="0.6"/>
<line x1="455.10" y1="248.07" x2="457.10" y2="248.07" stroke="#1a1a1a" stroke-width="0.45"/>
<line x1="455.10" y1="257.33" x2="457.10" y2="257.33" stroke="#1a1a1a" stroke-width="0.45"/>
<rect x="464.12" y="286.28" width="5.85" height="5.62" fill="#ed1c24"/>
<line x1="467.05" y1="285.70" x2="467.05" y2="286.86" stroke="#1a1a1a" stroke-width="0.6"/>
<line x1="466.05" y1="285.70" x2="468.05" y2="285.70" stroke="#1a1a1a" stroke-width="0.45"/>
<line x1="466.05" y1="286.86" x2="468.05" y2="286.86" stroke="#1a1a1a" stroke-width="0.45"/>
<rect x="469.98" y="290.80" width="5.85" height="1.10" fill="#747679"/>
<rect x="475.83" y="282.81" width="5.85" height="9.09" fill="#22272b"/>
<line x1="478.75" y1="281.65" x2="478.75" y2="283.97" stroke="#1a1a1a" stroke-width="0.6"/>
<line x1="477.75" y1="281.65" x2="479.75" y2="281.65" stroke="#1a1a1a" stroke-width="0.45"/>
<line x1="477.75" y1="283.97" x2="479.75" y2="283.97" stroke="#1a1a1a" stroke-width="0.45"/>
<rect x="486.78" y="264.28" width="5.85" height="27.62" fill="#ed1c24"/>
<line x1="489.70" y1="259.26" x2="489.70" y2="269.30" stroke="#1a1a1a" stroke-width="0.6"/>
<line x1="488.70" y1="259.26" x2="490.70" y2="259.26" stroke="#1a1a1a" stroke-width="0.45"/>
<line x1="488.70" y1="269.30" x2="490.70" y2="269.30" stroke="#1a1a1a" stroke-width="0.45"/>
<rect x="492.63" y="290.80" width="5.85" height="1.10" fill="#747679"/>
<rect x="498.48" y="244.98" width="5.85" height="46.92" fill="#22272b"/>
<line x1="501.40" y1="239.19" x2="501.40" y2="250.77" stroke="#1a1a1a" stroke-width="0.6"/>
<line x1="500.40" y1="239.19" x2="502.40" y2="239.19" stroke="#1a1a1a" stroke-width="0.45"/>
<line x1="500.40" y1="250.77" x2="502.40" y2="250.77" stroke="#1a1a1a" stroke-width="0.45"/>
<line x1="436.65" y1="209.60" x2="436.65" y2="295.90" stroke="#484848" stroke-width="0.75"/>
<line x1="436.25" y1="295.50" x2="511.00" y2="295.50" stroke="#484848" stroke-width="0.75"/>
<line x1="435.35" y1="291.30" x2="436.65" y2="291.30" stroke="#484848" stroke-width="0.5"/>
<text x="435.15" y="294.00" font-size="7.75" text-anchor="end" font-weight="normal" fill="#0a0a0a">0</text>
<line x1="435.35" y1="272.00" x2="436.65" y2="272.00" stroke="#484848" stroke-width="0.5"/>
<text x="435.15" y="274.70" font-size="7.75" text-anchor="end" font-weight="normal" fill="#0a0a0a">5</text>
<line x1="435.35" y1="252.70" x2="436.65" y2="252.70" stroke="#484848" stroke-width="0.5"/>
<text x="435.15" y="255.40" font-size="7.75" text-anchor="end" font-weight="normal" fill="#0a0a0a">10</text>
<line x1="435.35" y1="233.40" x2="436.65" y2="233.40" stroke="#484848" stroke-width="0.5"/>
<text x="435.15" y="236.10" font-size="7.75" text-anchor="end" font-weight="normal" fill="#0a0a0a">15</text>
<line x1="435.35" y1="214.10" x2="436.65" y2="214.10" stroke="#484848" stroke-width="0.5"/>
<text x="435.15" y="216.80" font-size="7.75" text-anchor="end" font-weight="normal" fill="#0a0a0a">20</text>
<line x1="450.25" y1="295.50" x2="450.25" y2="297.10" stroke="#484848" stroke-width="0.6"/>
<text x="452.65" y="297.50" font-size="7.4" text-anchor="end" font-weight="normal" fill="#0a0a0a" transform="rotate(-90 452.65 297.50)">+ HLA-C*04:01</text>
<line x1="472.90" y1="295.50" x2="472.90" y2="297.10" stroke="#484848" stroke-width="0.6"/>
<text x="475.30" y="297.50" font-size="7.4" text-anchor="end" font-weight="normal" fill="#0a0a0a" transform="rotate(-90 475.30 297.50)">+ HLA-C*04:09N</text>
<line x1="495.55" y1="295.50" x2="495.55" y2="297.10" stroke="#484848" stroke-width="0.6"/>
<text x="497.95" y="297.50" font-size="7.4" text-anchor="end" font-weight="normal" fill="#0a0a0a" transform="rotate(-90 497.95 297.50)">+ HLA-C*05:01</text>
<text x="424.20" y="253.50" font-size="7.5" text-anchor="middle" fill="#0a0a0a" transform="rotate(-90 424.20 253.50)">GFP<tspan dy="-2.6" font-size="4.65">+</tspan><tspan dy="2.6"> T cells (%)</tspan></text>
<text x="418.30" y="193.00" font-size="12.3" text-anchor="start" font-weight="bold" fill="#000">G</text>
<text x="480.60" y="194.50" font-size="7.15" text-anchor="middle" font-weight="normal" fill="#0a0a0a">58-16A2 + HLA class I–</text>
<text x="480.60" y="202.00" font-size="7.15" text-anchor="middle" font-weight="normal" fill="#0a0a0a">negative HEK293T</text>
<rect x="436.40" y="352.20" width="6.40" height="6.40" fill="#ed1c24"/>
<text x="445.00" y="357.60" font-size="7.25" text-anchor="start" font-weight="normal" fill="#0a0a0a">Without antibody</text>
<rect x="436.40" y="361.80" width="6.40" height="6.40" fill="#747679"/>
<text x="445.00" y="367.10" font-size="7.25" text-anchor="start" font-weight="normal" fill="#0a0a0a">+ HLA-BC</text>
<rect x="436.40" y="371.00" width="6.40" height="6.40" fill="#22272b"/>
<text x="445.00" y="376.40" font-size="7.25" text-anchor="start" font-weight="normal" fill="#0a0a0a">+ isotype</text>
</svg>
</body></html>
